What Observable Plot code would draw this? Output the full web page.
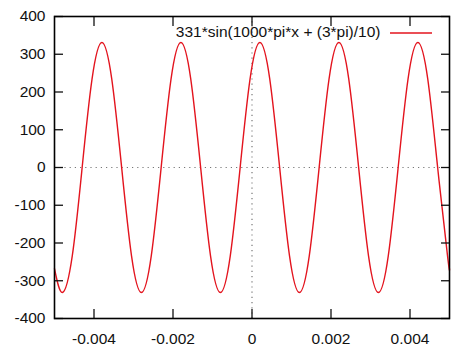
<!DOCTYPE html>
<html>
<head>
<meta charset="utf-8">
<script src="https://cdn.jsdelivr.net/npm/d3@7"></script>
<script src="https://cdn.jsdelivr.net/npm/@observablehq/plot@0.6"></script>
<style>
  html, body { margin: 0; padding: 0; background: #fff; }
</style>
</head>
<body>
<div id="chart"></div>
<script>
const legendLabel = "331*sin(1000*pi*x + (3*pi)/10)";
const xTicks = [-0.004, -0.002, 0, 0.002, 0.004];
const yTicks = [-400, -300, -200, -100, 0, 100, 200, 300, 400];
const xValues = [-0.005, -0.0048, -0.00455, -0.0043, -0.00405, -0.0038, -0.00355, -0.0033, -0.00305,
  -0.0028, -0.00255, -0.0023, -0.00205, -0.0018, -0.00155, -0.0013, -0.00105,
  -0.0008, -0.00055, -0.0003, -0.00005, 0.0002, 0.00045, 0.0007, 0.00095,
  0.0012, 0.00145, 0.0017, 0.00195, 0.0022, 0.00245, 0.0027, 0.00295,
  0.0032, 0.00345, 0.0037, 0.00395, 0.0042, 0.00445, 0.0047, 0.00495, 0.005];
const yValues = [-268, -331, -234, 0, 234, 331, 234, 0, -234,
  -331, -234, 0, 234, 331, 234, 0, -234,
  -331, -234, 0, 234, 331, 234, 0, -234,
  -331, -234, 0, 234, 331, 234, 0, -234,
  -331, -234, 0, 234, 331, 234, 0, -234, -268];

const data = xValues.map((x, i) => ({x, y: yValues[i]}));
const red = "#e3141e";
const fmt = d => String(d);

const plot = Plot.plot({
  width: 474,
  height: 354,
  marginLeft: 54,
  marginRight: 25,
  marginTop: 16,
  marginBottom: 36,
  style: {fontSize: "15.5px", fontFamily: "Arial, 'Liberation Sans', sans-serif", color: "#111", background: "#fff"},
  x: {domain: [-0.005, 0.005]},
  y: {domain: [-400, 400]},
  marks: [
    Plot.ruleY([0], {stroke: "#777", strokeDasharray: "1.2,4", strokeWidth: 1.2}),
    Plot.ruleX([0], {stroke: "#777", strokeDasharray: "1.2,4", strokeWidth: 1.2}),
    Plot.line(data, {x: "x", y: "y", curve: "natural", stroke: red, strokeWidth: 1.4}),
    Plot.axisX({ticks: xTicks, anchor: "bottom", tickSize: 0, tickPadding: 14, tickFormat: fmt, label: null}),
    Plot.axisX({ticks: xTicks, anchor: "bottom", tickSize: -9, tickFormat: () => "", label: null, strokeWidth: 1.3}),
    Plot.axisX({ticks: xTicks, anchor: "top", tickSize: -9, tickFormat: () => "", label: null, strokeWidth: 1.3}),
    Plot.axisY({ticks: yTicks, anchor: "left", tickSize: 0, tickPadding: 9, tickFormat: fmt, label: null}),
    Plot.axisY({ticks: yTicks, anchor: "left", tickSize: -9, tickFormat: () => "", label: null, strokeWidth: 1.3}),
    Plot.axisY({ticks: yTicks, anchor: "right", tickSize: -9, tickFormat: () => "", label: null, strokeWidth: 1.3}),
    Plot.frame({stroke: "#000", strokeWidth: 1.6}),
    Plot.text([legendLabel], {frameAnchor: "top-right", dx: -69, dy: 16, textAnchor: "end", lineAnchor: "middle", fill: "#111"})
  ]
});

// legend sample line
d3.select(plot).append("line")
  .attr("x1", 390).attr("x2", 432).attr("y1", 33).attr("y2", 33)
  .attr("stroke", red).attr("stroke-width", 1.4);

document.getElementById("chart").appendChild(plot);
</script>
</body>
</html>
